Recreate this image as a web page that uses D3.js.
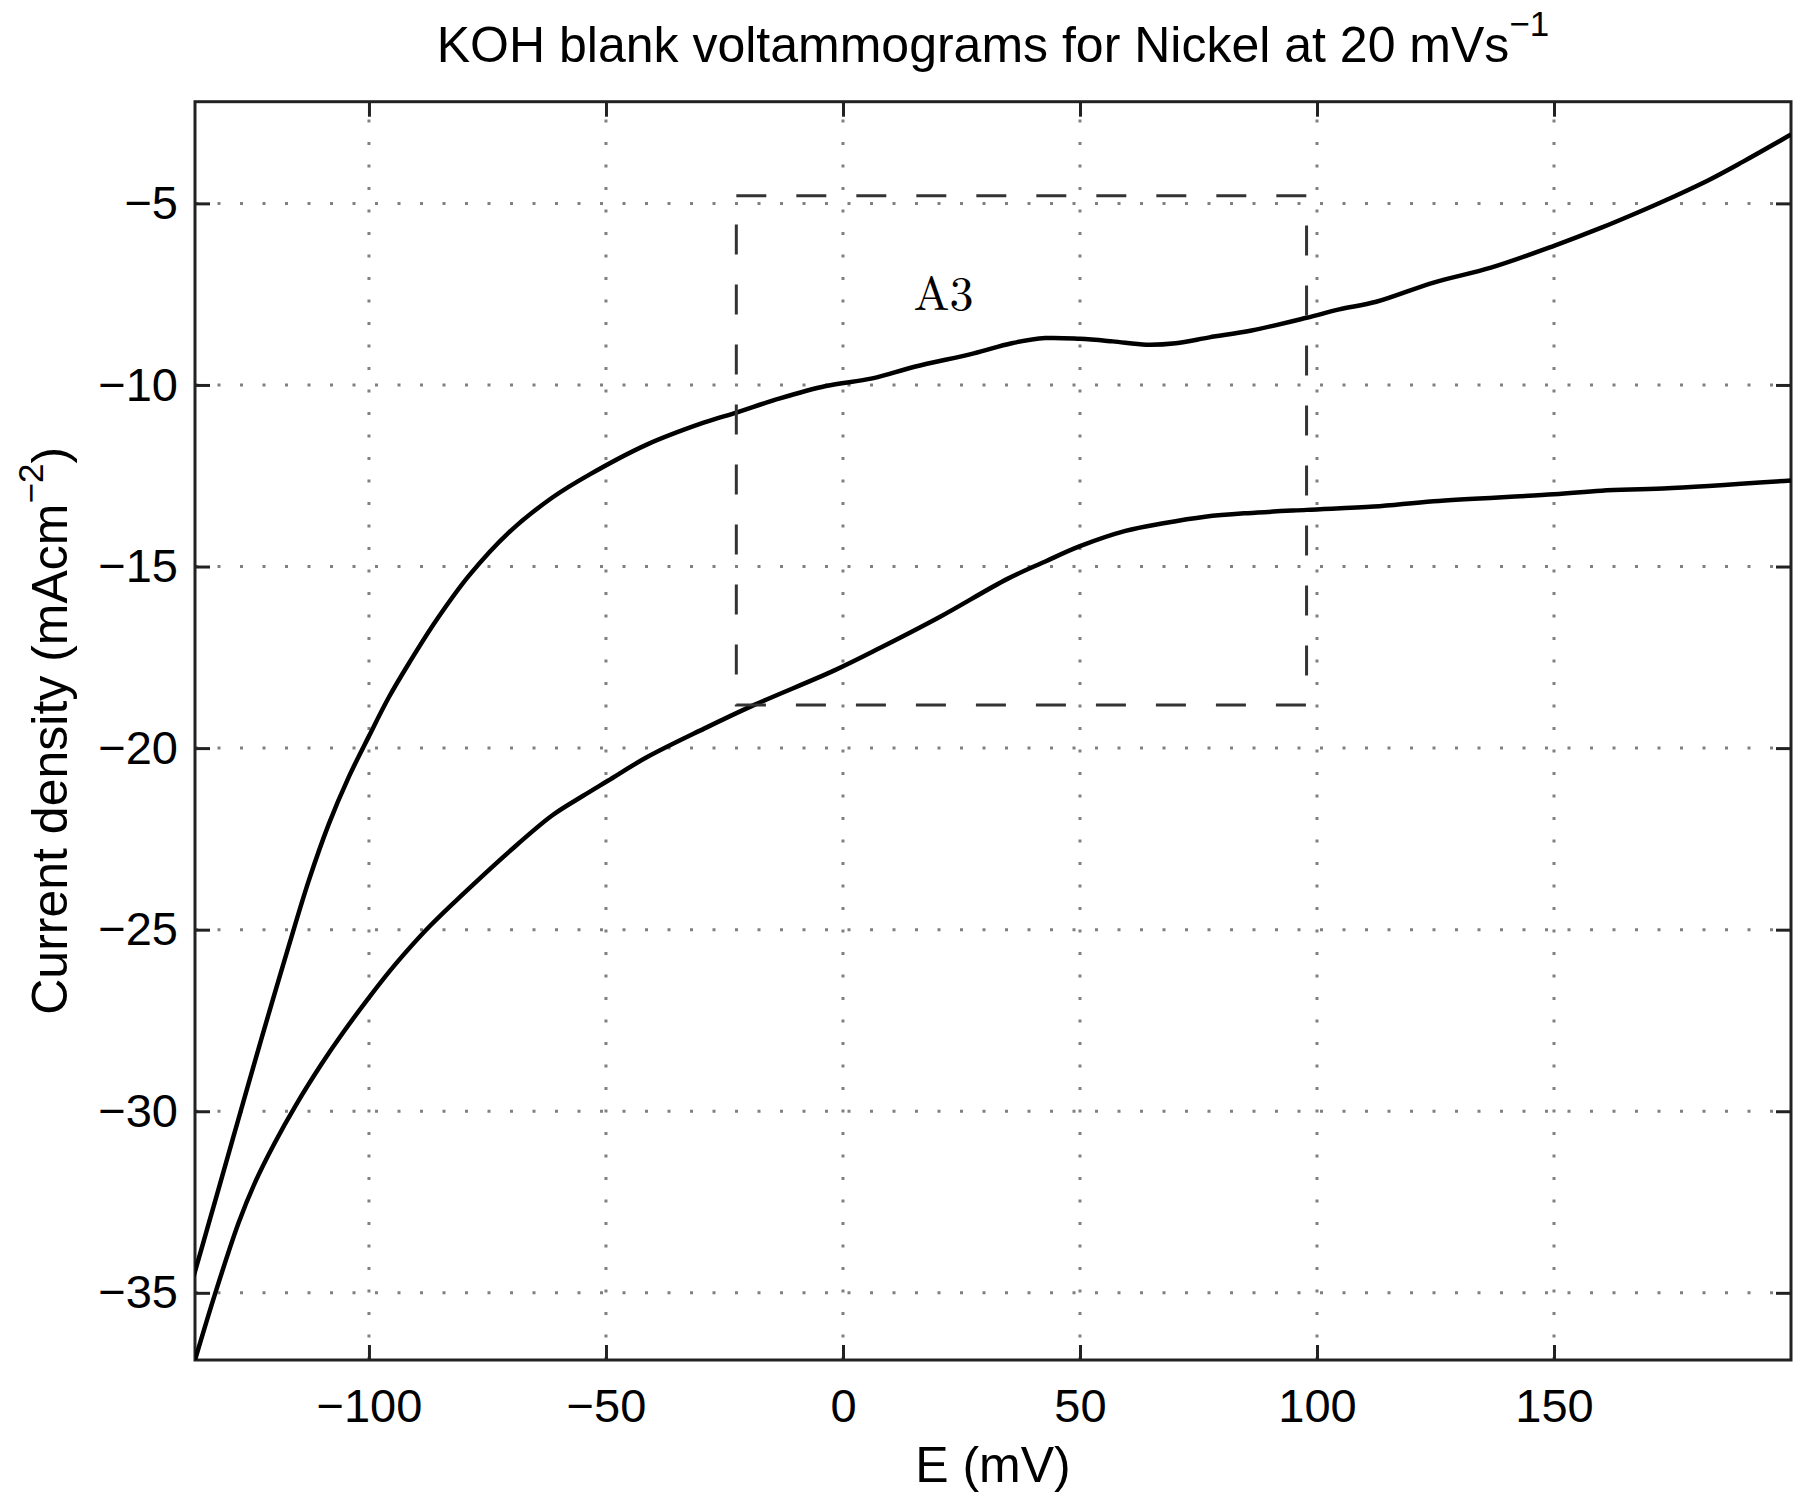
<!DOCTYPE html>
<html>
<head>
<meta charset="utf-8">
<script src="https://cdn.jsdelivr.net/npm/d3@7"></script>
<style>
  body { margin: 0; background: #fff; }
  text { font-family: "Liberation Sans", Arial, Helvetica, sans-serif; fill: #000; }
</style>
</head>
<body>
<svg id="chart"></svg>
<script>
// potential (mV) and current density (mA cm^-2)
const upperE = [-137, -133.8, -131.0, -127.5, -124.0, -120.4, -116.9, -112.7, -108.5, -104.2, -100, -95.8, -91.5, -85.9,
  -78.9, -70.4, -61.3, -53.5, -41.5, -29.4, -22.5, -13.3, -3.6, 6.2, 15.1, 27.6, 35.6, 42.7, 50, 56.9, 64.0, 70.2, 77.3,
  86.2, 97.8, 104.7, 112.5, 124.6, 136.7, 150, 160, 166.8, 173.8, 182.9, 189.9, 196.3, 200];
const upperJ = [-34.55, -33.09, -31.81, -30.2, -28.6, -26.98, -25.44, -23.65, -22.1, -20.78, -19.67, -18.6, -17.65, -16.5,
  -15.25, -14.05, -13.1, -12.47, -11.65, -11.04, -10.76, -10.37, -10.03, -9.82, -9.5, -9.13, -8.85, -8.71, -8.73, -8.8, -8.89, -8.85, -8.69,
  -8.5, -8.15, -7.92, -7.71, -7.18, -6.77, -6.17, -5.67, -5.3, -4.9, -4.34, -3.85, -3.38, -3.1];

const lowerE = [-136.7, -132.4, -127.5, -124.0, -120.0, -115.5, -109.9, -105.6, -100, -94.4, -87.3, -80.0, -70.4, -61.3,
  -54.9, -49.6, -41.5, -29.4, -18.7, -1.8, 8.0, 20.4, 34.7, 42.7, 50, 59.6, 67.6, 76.4, 85.3, 97.8, 112, 124.6, 150, 160, 173, 200];
const lowerJ = [-36.85, -35.0, -33.07, -31.95, -30.9, -29.85, -28.68, -27.86, -26.87, -25.95, -24.92, -24.0, -22.85, -21.85,
  -21.32, -20.9, -20.26, -19.47, -18.81, -17.86, -17.23, -16.39, -15.34, -14.86, -14.44, -14.02, -13.81, -13.63, -13.53, -13.44,
  -13.35, -13.2, -13.01, -12.91, -12.85, -12.63];

// dashed region A3
const boxE = [-22.5, 97.8];
const boxJ = [-18.81, -4.79];
const boxLabel = { text: "A3", e: 21.2, j: -7.95 };

const xTicks = [-100, -50, 0, 50, 100, 150];
const yTicks = [-35, -30, -25, -20, -15, -10, -5];
const xDomain = [-136.7, 200];
const yDomain = [-36.85, -2.2];

const W = 1800, H = 1494;
const margin = { top: 101.7, right: 9, bottom: 134, left: 195 };
const width = W - margin.left - margin.right;
const height = H - margin.top - margin.bottom;

const svg = d3.select("#chart").attr("width", W).attr("height", H);
const g = svg.append("g").attr("transform", `translate(${margin.left},${margin.top})`);

const x = d3.scaleLinear().domain(xDomain).range([0, width]);
const y = d3.scaleLinear().domain(yDomain).range([height, 0]);

svg.append("defs").append("clipPath").attr("id", "plot-clip")
  .append("rect").attr("width", width).attr("height", height);

// dotted grid
const grid = g.append("g").attr("stroke", "#808080").attr("stroke-width", 3).attr("stroke-dasharray", "3,19.5");
grid.selectAll(".gx").data(xTicks).join("line")
  .attr("x1", d => x(d)).attr("x2", d => x(d)).attr("y1", height).attr("y2", 0);
grid.selectAll(".gy").data(yTicks).join("line")
  .attr("y1", d => y(d)).attr("y2", d => y(d)).attr("x1", 0).attr("x2", width);

// axes, ticks point inwards like matlab
const tickLen = 15;
const fs = 47;
g.append("g").attr("transform", `translate(0,${height})`)
  .call(d3.axisBottom(x).tickValues(xTicks).tickSize(-tickLen).tickSizeOuter(0).tickPadding(29));
g.append("g")
  .call(d3.axisLeft(y).tickValues(yTicks).tickSize(-tickLen).tickSizeOuter(0).tickPadding(17));
g.append("g").call(d3.axisTop(x).tickValues(xTicks).tickSize(-tickLen).tickSizeOuter(0).tickFormat(""));
g.append("g").attr("transform", `translate(${width},0)`)
  .call(d3.axisRight(y).tickValues(yTicks).tickSize(-tickLen).tickSizeOuter(0).tickFormat(""));

g.selectAll(".domain").remove();
g.selectAll(".tick line").attr("stroke", "#222").attr("stroke-width", 3);
g.selectAll(".tick text").attr("font-size", fs).attr("font-family", null).attr("fill", "#000");

g.append("rect").attr("width", width).attr("height", height)
  .attr("fill", "none").attr("stroke", "#222").attr("stroke-width", 3);

// curves
const line = d3.line().x(d => x(d[0])).y(d => y(d[1])).curve(d3.curveCatmullRom.alpha(0.5));
const plot = g.append("g").attr("clip-path", "url(#plot-clip)");
[d3.zip(upperE, upperJ), d3.zip(lowerE, lowerJ)].forEach(pts => {
  plot.append("path").datum(pts)
    .attr("d", line).attr("fill", "none").attr("stroke", "#000")
    .attr("stroke-width", 4.5).attr("stroke-linejoin", "round");
});

// A3 box
g.append("rect")
  .attr("x", x(boxE[0])).attr("y", y(boxJ[1]))
  .attr("width", x(boxE[1]) - x(boxE[0])).attr("height", y(boxJ[0]) - y(boxJ[1]))
  .attr("fill", "none").attr("stroke", "#333").attr("stroke-width", 3)
  .attr("stroke-dasharray", "30,30");
g.append("text")
  .attr("x", x(boxLabel.e)).attr("y", y(boxLabel.j))
  .attr("text-anchor", "middle").attr("font-size", 48)
  .style("font-family", "'Latin Modern Roman', 'DejaVu Serif', 'Liberation Serif', serif")
  .text(boxLabel.text);

// title and labels
const title = svg.append("text").attr("x", margin.left + width / 2).attr("y", 62)
  .attr("text-anchor", "middle").attr("font-size", 50);
title.append("tspan").text("KOH blank voltammograms for Nickel at 20 mVs");
title.append("tspan").attr("dy", -26).attr("font-size", 35).text("\u22121");

svg.append("text").attr("x", margin.left + width / 2).attr("y", 1482)
  .attr("text-anchor", "middle").attr("font-size", 50).text("E (mV)");

const ylab = svg.append("text")
  .attr("transform", `translate(67,${margin.top + height / 2}) rotate(-90)`)
  .attr("text-anchor", "middle").attr("font-size", 50);
ylab.append("tspan").text("Current density (mAcm");
ylab.append("tspan").attr("dy", -24).attr("font-size", 35).text("\u22122");
ylab.append("tspan").attr("dy", 24).text(")");
</script>
</body>
</html>
